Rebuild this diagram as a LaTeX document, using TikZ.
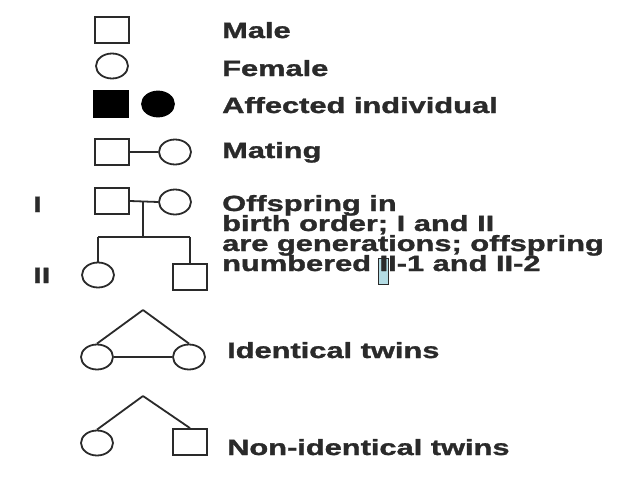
\documentclass[tikz,border=0pt]{standalone}
\usepackage{fontspec}
\setmainfont{Liberation Sans}[BoldFeatures={FakeBold=1.2}]
\usepackage{graphicx}
\usetikzlibrary{shapes.geometric}
\definecolor{hl}{HTML}{B4DCE4}
\definecolor{ink}{HTML}{2A2A2A}
\newcommand{\wtxt}[1]{\scalebox{1.4}[1]{#1}}
\begin{document}
\begin{tikzpicture}[x=1pt,y=-1pt,
  sym/.style={draw=ink, line width=1.8pt, inner sep=0pt},
  male/.style={sym, rectangle, minimum width=34pt, minimum height=26pt},
  female/.style={sym, ellipse, minimum width=32pt, minimum height=25pt},
  lbl/.style={anchor=base west, inner sep=0pt, text=ink, font=\fontsize{22}{24}\selectfont\bfseries},
  link/.style={draw=ink, line width=1.8pt}]
\useasboundingbox (0,0) rectangle (638,479);
\fill[white] (0,0) rectangle (638,479);

% legend symbols
\node[male] (m1) at (112,30) {};
\node[female] (f1) at (112,66) {};
\node[male, fill=black, draw=black] (am) at (111,104) {};
\node[female, fill=black, draw=black] (af) at (158,104) {};
\node[male] (mm) at (112,152) {};
\node[female] (mf) at (175,152) {};
\draw[link] (mm.east) -- (mf.west);

\node[lbl] (tMale) at (222,38) {\wtxt{Male}};
\node[lbl] (tFemale) at (222,76) {\wtxt{Female}};
\node[lbl] (tAff) at (222,113) {\wtxt{Affected individual}};
\node[lbl] (tMat) at (222,158) {\wtxt{Mating}};

% pedigree
\node[lbl] (gI) at (33,212) {\wtxt{I}};
\node[lbl] (gII) at (33,283) {\wtxt{II}};
\node[male] (p1) at (112,201) {};
\node[female] (p2) at (175,202) {};
\draw[link] (p1.east) -- (p2.west);
\coordinate (mid) at (143,201);
\coordinate (bar) at (143,237);
\coordinate (barL) at (98,237);
\coordinate (barR) at (190,237);
\node[female] (c1) at (98,275) {};
\node[male] (c2) at (190,277) {};
\draw[link] (mid) -- (bar);
\draw[link] (barL) -- (barR);
\draw[link] (barL) -- (c1.north);
\draw[link] (barR) -- (c2.north);

\node[draw=ink, line width=0.8pt, fill=hl, minimum width=10pt, minimum height=26pt, inner sep=0pt] (cursor) at (383,271) {};
\node[lbl] (o1) at (222,211) {\wtxt{Offspring in}};
\node[lbl] (o2) at (222,231) {\wtxt{birth order; I and II}};
\node[lbl] (o3) at (222,251) {\wtxt{are generations; offspring}};
\node[lbl] (o4) at (222,271) {\wtxt{numbered II-1 and II-2}};

% identical twins
\coordinate (apex1) at (143,310);
\node[female] (i1) at (97,357) {};
\node[female] (i2) at (189,357) {};
\draw[link] (apex1) -- (i1.north);
\draw[link] (apex1) -- (i2.north);
\draw[link] (i1.east) -- (i2.west);
\node[lbl] (tId) at (227,358) {\wtxt{Identical twins}};

% non-identical twins
\coordinate (apex2) at (143,396);
\node[female] (n1) at (97,443) {};
\node[male] (n2) at (190,442) {};
\draw[link] (apex2) -- (n1.north);
\draw[link] (apex2) -- (n2.north);
\node[lbl] (tNid) at (227,455) {\wtxt{Non-identical twins}};
\end{tikzpicture}
\end{document}
